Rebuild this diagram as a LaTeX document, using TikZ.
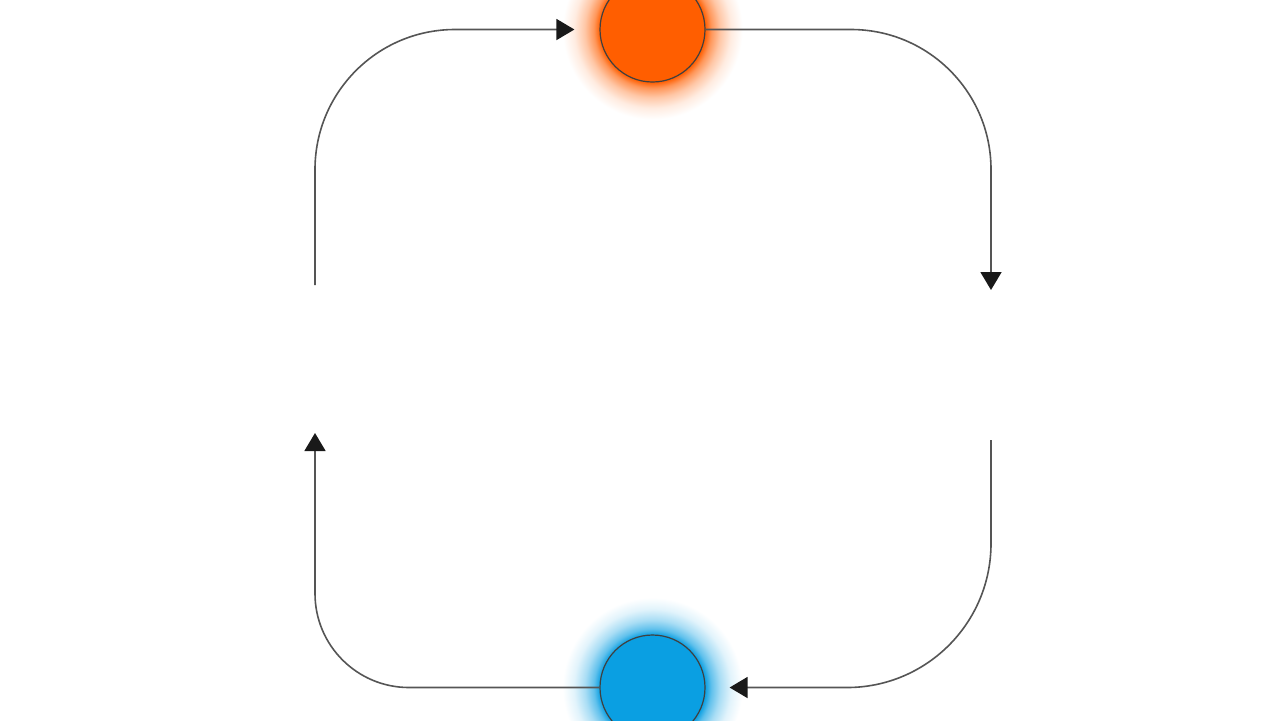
\documentclass[tikz,border=0pt]{standalone}
\usetikzlibrary{arrows.meta}
\definecolor{orgc}{HTML}{FF5E00}
\definecolor{bluc}{HTML}{0A9FE2}
\definecolor{linec}{HTML}{555555}
\pgfdeclareradialshading{glowO}{\pgfpoint{0bp}{0bp}}{color(0bp)=(orgc); color(14.6bp)=(orgc); color(16.3bp)=(orgc!65!white); color(18.8bp)=(orgc!35!white); color(21.8bp)=(orgc!12!white); color(25bp)=(white); color(50bp)=(white)}
\pgfdeclareradialshading{glowB}{\pgfpoint{0bp}{0bp}}{color(0bp)=(bluc); color(14.6bp)=(bluc); color(16.3bp)=(bluc!65!white); color(18.8bp)=(bluc!35!white); color(21.8bp)=(bluc!12!white); color(25bp)=(white); color(50bp)=(white)}
\begin{document}
\begin{tikzpicture}[x=0.5pt,y=-0.5pt,
  ball/.style={circle, draw=black!75, line width=0.6pt, inner sep=0pt, minimum size=52.5pt},
  conn/.style={draw=linec, line width=0.8pt, -{Triangle[length=9pt,width=10.5pt,color=black!90]}}]
\useasboundingbox (0,0) rectangle (1280,720);
\fill[white] (0,0) rectangle (1280,720);
\shade[shading=glowO] (652.5,29.5) circle (90);
\shade[shading=glowB] (652.5,687.5) circle (90);
\node[ball, fill=orgc] (top) at (652.5,29.5) {};
\node[ball, fill=bluc] (bot) at (652.5,687.5) {};
\coordinate (tlS) at (315,285);
\coordinate (trE) at (991,290);
\coordinate (brS) at (991,440);
\coordinate (blE) at (315,433);
\draw[conn, rounded corners=70pt, shorten >=12.5pt] (tlS) |- (top.west);
\draw[conn, rounded corners=70pt] (top.east) -| (trE);
\draw[conn, rounded corners=72pt, shorten >=12pt] (brS) |- (bot.east);
\draw[conn, rounded corners=47pt] (bot.west) -| (blE);
\end{tikzpicture}
\end{document}
